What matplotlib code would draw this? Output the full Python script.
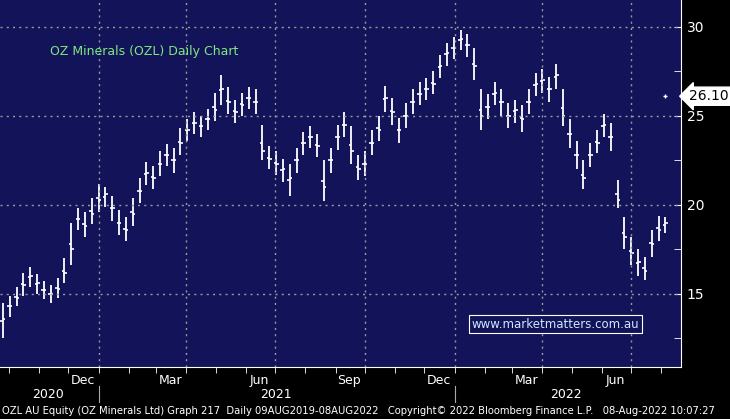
import datetime as dt
import matplotlib
matplotlib.use("Agg")
import matplotlib.pyplot as plt
import matplotlib.dates as mdates
from matplotlib.transforms import blended_transform_factory

BG = "black"
PANEL = "#13135a"
FG = "white"

start = dt.date(2020, 9, 25)
closes = [13.6, 14.3, 14.8, 15.5, 16.0, 15.6, 15.2, 15.0, 15.3, 16.2,
          17.5, 19.2, 18.8, 19.5, 20.3, 20.6, 19.8, 19.0, 18.6, 19.5,
          20.8, 21.8, 21.5, 22.3, 22.8, 22.5, 23.5, 24.2, 24.6, 24.4,
          24.8, 25.3, 26.5, 25.8, 25.2, 25.6, 26.0, 25.8, 23.0, 22.6,
          22.3, 22.0, 21.5, 22.5, 23.5, 23.8, 23.3, 21.0, 22.5, 23.8,
          24.5, 23.0, 22.0, 22.3, 23.5, 24.2, 26.0, 25.2, 24.2, 25.0,
          25.8, 26.2, 26.5, 26.8, 27.8, 28.5, 28.8, 29.3, 29.0, 27.8,
          25.0, 25.5, 26.3, 25.8, 25.0, 25.3, 24.8, 25.8, 26.8, 27.0,
          26.5, 27.3, 25.0, 24.0, 22.8, 21.5, 22.8, 23.5, 24.5, 23.8,
          20.3, 18.2, 17.3, 16.8, 16.3, 17.8, 18.6, 19.0]
highs = [14.5, 14.9, 15.4, 16.2, 16.5, 16.1, 15.7, 15.5, 15.9, 17.0,
         19.0, 19.8, 19.6, 20.4, 21.2, 21.0, 20.5, 19.7, 19.3, 20.4,
         21.5, 22.4, 22.2, 23.0, 23.4, 23.2, 24.3, 24.8, 25.2, 25.0,
         25.4, 26.3, 27.3, 26.6, 25.9, 26.3, 26.6, 26.5, 24.5, 23.3,
         23.0, 22.6, 22.3, 23.2, 24.1, 24.4, 24.0, 22.5, 23.2, 24.5,
         25.2, 24.4, 22.8, 23.0, 24.2, 25.0, 26.7, 26.0, 24.9, 25.7,
         26.5, 26.9, 27.1, 27.5, 28.4, 29.1, 29.4, 29.8, 29.6, 28.8,
         26.5, 26.2, 26.9, 26.5, 25.7, 25.9, 25.6, 26.5, 27.4, 27.6,
         27.2, 27.9, 26.5, 24.8, 23.6, 22.5, 23.5, 24.2, 25.1, 24.6,
         21.4, 19.3, 18.2, 17.5, 17.1, 18.6, 19.4, 19.3]
lows = [12.5, 13.7, 14.3, 14.9, 15.4, 15.0, 14.7, 14.5, 14.8, 15.6,
        16.6, 18.6, 18.2, 18.9, 19.6, 19.9, 19.1, 18.3, 18.0, 18.8,
        20.1, 21.1, 20.9, 21.6, 22.2, 21.8, 22.8, 23.6, 24.0, 23.8,
        24.2, 24.7, 25.6, 25.1, 24.6, 25.0, 25.4, 25.1, 22.5, 22.0,
        21.7, 21.3, 20.5, 21.8, 22.8, 23.2, 22.7, 20.2, 21.8, 23.1,
        23.8, 22.3, 21.4, 21.6, 22.8, 23.6, 25.2, 24.5, 23.5, 24.3,
        25.1, 25.6, 25.9, 26.2, 27.1, 27.8, 28.2, 28.7, 28.3, 27.0,
        24.2, 24.8, 25.6, 25.0, 24.3, 24.6, 24.1, 25.1, 26.1, 26.3,
        25.8, 26.5, 24.4, 23.2, 22.0, 20.9, 22.1, 22.9, 23.8, 23.0,
        19.8, 17.5, 16.6, 16.0, 15.8, 17.1, 18.0, 18.4]
dates = [start + dt.timedelta(days=7 * i) for i in range(len(closes))]
last_date = dt.date(2022, 8, 8)
last_price = 26.10

fig = plt.figure(figsize=(7.3, 4.19), dpi=100)
fig.patch.set_facecolor(BG)
ax = fig.add_axes([0, 1 - 367 / 419, 681 / 730, 367 / 419])
ax.set_facecolor(PANEL)

dn = mdates.date2num(dates)
ax.vlines(dn, lows, highs, color=FG, lw=1.3)
ax.hlines(closes, dn, dn + 2.5, color=FG, lw=1.2)
ax.hlines([(l + h) / 2 for l, h in zip(lows, highs)], dn - 2.5, dn, color=FG, lw=1.2)
ld = mdates.date2num(last_date)
ax.plot([ld - 3], [last_price], marker="+", color=FG, ms=3, mew=1)

ax.set_xlim(mdates.date2num(dt.date(2020, 9, 22)), mdates.date2num(dt.date(2022, 8, 21)))
ax.set_ylim(10.9, 31.5)

# grid
for y in [15, 20, 25, 30]:
    ax.axhline(y, color="#9a9a9a", ls=(0, (1.5, 3)), lw=1)
for d in [dt.date(2021, 1, 1), dt.date(2021, 4, 1), dt.date(2021, 7, 1), dt.date(2021, 10, 1),
          dt.date(2022, 1, 1), dt.date(2022, 4, 1), dt.date(2022, 7, 1)]:
    ax.axvline(mdates.date2num(d), color="#9a9a9a", ls=(0, (1.5, 3)), lw=1)

# right axis
ax.yaxis.tick_right()
ax.set_yticks([15, 20, 25, 30])
ax.set_yticklabels(["15", "20", "25", "30"], color=FG, fontsize=10)
ax.set_yticks([12.5, 17.5, 22.5, 27.5], minor=True)
ax.tick_params(axis="y", which="both", direction="in", color=FG, length=5, pad=4)
for s in ["top", "left"]:
    ax.spines[s].set_visible(False)
ax.spines["right"].set_color(FG)
ax.spines["bottom"].set_color(FG)

# month ticks below, labels centered in months
month_starts = []
m = dt.date(2020, 10, 1)
while m < dt.date(2022, 9, 1):
    month_starts.append(mdates.date2num(m))
    m = dt.date(m.year + (m.month == 12), m.month % 12 + 1, 1)
ax.set_xticks(month_starts, minor=True)
ax.tick_params(axis="x", which="minor", length=4, color=FG, direction="out")
mids = [dt.date(2020, 12, 16), dt.date(2021, 3, 16), dt.date(2021, 6, 15), dt.date(2021, 9, 15),
        dt.date(2021, 12, 16), dt.date(2022, 3, 16), dt.date(2022, 6, 15)]
ax.set_xticks(mdates.date2num(mids))
ax.set_xticklabels(["Dec", "Mar", "Jun", "Sep", "Dec", "Mar", "Jun"], color=FG, fontsize=9)
ax.tick_params(axis="x", which="major", length=0, pad=5)

tr = blended_transform_factory(ax.transData, fig.transFigure)
for d, lab in [(dt.date(2020, 11, 10), "2020"), (dt.date(2021, 7, 2), "2021"), (dt.date(2022, 4, 25), "2022")]:
    fig.text(mdates.date2num(d), 1 - 394 / 419, lab, transform=tr, color=FG, fontsize=9, ha="center", va="center")
for d in [dt.date(2021, 1, 1), dt.date(2022, 1, 1)]:
    x = mdates.date2num(d)
    fig.add_artist(plt.Line2D([x, x], [1 - 386 / 419, 1 - 402 / 419], transform=tr, color="#aaaaaa", lw=0.8))

fig.text(2 / 730, 1 - 411 / 419,
         "OZL AU Equity (OZ Minerals Ltd) Graph 217  Daily 09AUG2019-08AUG2022   Copyright\u00a9 2022 Bloomberg Finance L.P.   08-Aug-2022 10:07:27",
         color=FG, fontsize=7.2, va="center", ha="left")

ax.text(50 / 681, 1 - 52 / 367, "OZ Minerals (OZL) Daily Chart", transform=ax.transAxes,
        color="#7ee87e", fontsize=9, va="center")
ax.text(472 / 681, 1 - 324 / 367, "www.marketmatters.com.au", transform=ax.transAxes,
        color="#cfe8ff", fontsize=8.5, va="center",
        bbox=dict(facecolor=PANEL, edgecolor=FG, lw=0.8, pad=2))
ax.annotate(f"{last_price:.2f}", xy=(1, last_price), xycoords=("axes fraction", "data"),
            xytext=(6, 0), textcoords="offset points", color="black", fontsize=10, va="center",
            bbox=dict(boxstyle="larrow,pad=0.15", facecolor=FG, edgecolor=FG))

fig.savefig("out.png", facecolor=BG)
